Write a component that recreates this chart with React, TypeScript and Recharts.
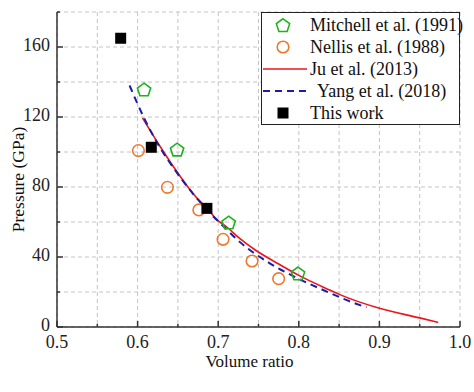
import React from 'react';
import { ComposedChart, Line, Scatter, XAxis, YAxis, CartesianGrid, Legend } from 'recharts';

const xTicks = [0.5, 0.55, 0.6, 0.65, 0.7, 0.75, 0.8, 0.85, 0.9, 0.95, 1.0];
const xTickLabels = ['0.5', '', '0.6', '', '0.7', '', '0.8', '', '0.9', '', '1.0'];
const yTicks = [0, 20, 40, 60, 80, 100, 120, 140, 160, 180];
const yTickLabels = ['0', '', '40', '', '80', '', '120', '', '160', ''];

const mitchellV = [0.608, 0.649, 0.713, 0.799];
const mitchellP = [135.8, 101.5, 59.8, 30.7];

const nellisV = [0.601, 0.637, 0.676, 0.706, 0.742, 0.775];
const nellisP = [100.8, 79.8, 66.9, 50.1, 37.7, 27.6];

const juV = [0.606, 0.624, 0.653, 0.673, 0.686, 0.698, 0.711, 0.727, 0.746, 0.775, 0.8, 0.839, 0.851, 0.9, 0.95, 0.973];
const juP = [119.5, 106, 86, 74, 68, 61.5, 57, 50.5, 44, 36, 29.5, 21, 18.5, 10.7, 5.2, 2.6];

const yangV = [0.59, 0.609, 0.624, 0.653, 0.686, 0.711, 0.727, 0.764, 0.8, 0.818, 0.826, 0.864, 0.884];
const yangP = [138, 118.5, 105.5, 85.5, 67, 55.5, 48.5, 36.4, 27.5, 23.6, 22, 14.5, 11.2];

const thisWorkV = [0.579, 0.617, 0.686];
const thisWorkP = [165, 102.7, 67.8];

const GREEN = '#1fb21f';
const ORANGE = '#f0782c';
const RED = '#e8161e';
const BLUE = '#1c1ca8';
const BLACK = '#000000';
const AXIS = '#333';
const FONT = '"Liberation Serif", "Times New Roman", serif';

const zip = (vs: number[], ps: number[]) => vs.map((v, i) => ({ v, p: ps[i] }));
const mitchell = zip(mitchellV, mitchellP);
const nellis = zip(nellisV, nellisP);
const ju = zip(juV, juP);
const yang = zip(yangV, yangP);
const thisWork = zip(thisWorkV, thisWorkP);

const legendItems = [
  { name: 'Mitchell et al. (1991)', kind: 'pentagon', color: GREEN, indent: 0 },
  { name: 'Nellis et al. (1988)', kind: 'circle', color: ORANGE, indent: 0 },
  { name: 'Ju et al. (2013)', kind: 'line', color: RED, indent: 0 },
  { name: 'Yang et al. (2018)', kind: 'dash', color: BLUE, indent: 7 },
  { name: 'This work', kind: 'square', color: BLACK, indent: 0 },
];

const pentagonPoints = (cx: number, cy: number, r: number) => {
  const pts: string[] = [];
  for (let k = 0; k < 5; k++) {
    const a = -Math.PI / 2 + (k * 2 * Math.PI) / 5;
    pts.push(`${cx + r * Math.cos(a)},${cy + r * Math.sin(a)}`);
  }
  return pts.join(' ');
};

const Pentagon = (props: any) => {
  const { cx, cy } = props;
  if (cx == null || cy == null) return null;
  return <polygon points={pentagonPoints(cx, cy + 0.8, 7)} fill="none" stroke={GREEN} strokeWidth={1.6} />;
};
const Circ = (props: any) => {
  const { cx, cy } = props;
  if (cx == null || cy == null) return null;
  return <circle cx={cx} cy={cy} r={5.8} fill="none" stroke={ORANGE} strokeWidth={1.6} />;
};
const Sq = (props: any) => {
  const { cx, cy } = props;
  if (cx == null || cy == null) return null;
  return <rect x={cx - 5.5} y={cy - 5.5} width={11} height={11} fill={BLACK} />;
};

const fmtX = (val: number) => {
  const i = xTicks.findIndex((t) => Math.abs(t - val) < 1e-6);
  return i >= 0 ? xTickLabels[i] : '';
};
const fmtY = (val: number) => {
  const i = yTicks.findIndex((t) => Math.abs(t - val) < 1e-6);
  return i >= 0 ? yTickLabels[i] : '';
};

const MAJ = 6;
const MIN = 3;

const BottomTick = (props: any) => {
  const { x, y, payload } = props;
  const label = fmtX(payload.value);
  const len = label ? MAJ : MIN;
  return (
    <g>
      <line x1={x} y1={y} x2={x} y2={y - len} stroke={AXIS} strokeWidth={1.5} />
      {label && (
        <text x={x} y={y + 21} textAnchor="middle" fontSize={18} fontFamily={FONT} fill="#222">
          {label}
        </text>
      )}
    </g>
  );
};
const TopTick = (props: any) => {
  const { x, y, payload } = props;
  const len = fmtX(payload.value) ? MAJ : MIN;
  return <line x1={x} y1={y} x2={x} y2={y + len} stroke={AXIS} strokeWidth={1.5} />;
};
const LeftTick = (props: any) => {
  const { x, y, payload } = props;
  const label = fmtY(payload.value);
  const len = label ? MAJ : MIN;
  return (
    <g>
      <line x1={x} y1={y} x2={x + len} y2={y} stroke={AXIS} strokeWidth={1.5} />
      {label && (
        <text x={x - 7} y={y} dy="0.2em" textAnchor="end" fontSize={18} fontFamily={FONT} fill="#222">
          {label}
        </text>
      )}
    </g>
  );
};
const RightTick = (props: any) => {
  const { x, y, payload } = props;
  const len = fmtY(payload.value) ? MAJ : MIN;
  return <line x1={x} y1={y} x2={x - len} y2={y} stroke={AXIS} strokeWidth={1.5} />;
};

const LegendBox = () => (
  <div
    style={{
      border: '1px solid #222',
      background: '#fff',
      width: 197,
      paddingTop: 1,
      height: 110,
      fontFamily: FONT,
      fontSize: 18,
      color: '#111',
      boxSizing: 'content-box',
    }}
  >
    {legendItems.map((it) => (
      <div key={it.name} style={{ display: 'flex', alignItems: 'center', height: 22, whiteSpace: 'nowrap' }}>
        <svg width={46} height={22} style={{ display: 'block', flex: 'none' }}>
          {it.kind === 'pentagon' && (
            <polygon points={pentagonPoints(21, 11.8, 7)} fill="none" stroke={it.color} strokeWidth={1.6} />
          )}
          {it.kind === 'circle' && <circle cx={21} cy={11} r={5.8} fill="none" stroke={it.color} strokeWidth={1.6} />}
          {it.kind === 'line' && <line x1={1} y1={11} x2={45} y2={11} stroke={it.color} strokeWidth={1.6} />}
          {it.kind === 'dash' && (
            <line x1={1} y1={11} x2={45} y2={11} stroke={it.color} strokeWidth={2} strokeDasharray="7 5" />
          )}
          {it.kind === 'square' && <rect x={15.5} y={5.5} width={11} height={11} fill={it.color} />}
        </svg>
        <span style={{ marginLeft: 2 + it.indent, lineHeight: '22px' }}>{it.name}</span>
      </div>
    ))}
  </div>
);

const axisStroke = { stroke: AXIS, strokeWidth: 1.5 };

export default function App() {
  return (
    <div style={{ position: 'absolute', left: 0, top: 0, width: 474, height: 392, background: '#fff' }}>
      <ComposedChart
        width={474}
        height={392}
        margin={{ top: 12, right: 14, bottom: 0, left: 0 }}
        style={{ fontFamily: FONT }}
      >
        <CartesianGrid stroke="#c4c4c4" strokeDasharray="4 3" strokeWidth={1} />
        <XAxis
          dataKey="v"
          type="number"
          domain={[0.5, 1]}
          ticks={xTicks}
          interval={0}
          allowDataOverflow
          tickSize={0}
          tickMargin={0}
          tickLine={false}
          tick={<BottomTick />}
          height={65}
          axisLine={axisStroke}
          label={{
            content: (props: any) => {
              const vb = props.viewBox || { x: 57, y: 327, width: 403 };
              return (
                <text x={vb.x + vb.width / 2 - 9} y={vb.y + 40} textAnchor="middle" fontSize={17} fontFamily={FONT} fill="#111">
                  Volume ratio
                </text>
              );
            },
          }}
        />
        <XAxis
          xAxisId="top"
          orientation="top"
          type="number"
          domain={[0.5, 1]}
          ticks={xTicks}
          interval={0}
          allowDataOverflow
          tickSize={0}
          tickMargin={0}
          tickLine={false}
          tick={<TopTick />}
          height={0}
          axisLine={axisStroke}
        />
        <YAxis
          dataKey="p"
          type="number"
          domain={[0, 180]}
          ticks={yTicks}
          interval={0}
          allowDataOverflow
          tickSize={0}
          tickMargin={0}
          tickLine={false}
          tick={<LeftTick />}
          width={57}
          axisLine={axisStroke}
          label={{
            content: (props: any) => {
              const vb = props.viewBox || { x: 0, y: 12, height: 315 };
              const cx = vb.x + 18;
              const cy = vb.y + vb.height / 2 + 10;
              return (
                <text x={cx} y={cy} transform={`rotate(-90 ${cx} ${cy})`} textAnchor="middle" dominantBaseline="central" fontSize={17.5} fontFamily={FONT} fill="#111">
                  Pressure (GPa)
                </text>
              );
            },
          }}
        />
        <YAxis
          yAxisId="right"
          orientation="right"
          type="number"
          domain={[0, 180]}
          ticks={yTicks}
          interval={0}
          allowDataOverflow
          tickSize={0}
          tickMargin={0}
          tickLine={false}
          tick={<RightTick />}
          width={0}
          axisLine={axisStroke}
        />
        <Line data={ju} dataKey="p" type="monotone" stroke={RED} strokeWidth={1.6} dot={false} isAnimationActive={false} legendType="none" />
        <Line data={yang} dataKey="p" type="monotone" stroke={BLUE} strokeWidth={2} strokeDasharray="7 5" dot={false} isAnimationActive={false} legendType="none" />
        <Scatter data={mitchell} dataKey="p" shape={<Pentagon />} isAnimationActive={false} />
        <Scatter data={nellis} dataKey="p" shape={<Circ />} isAnimationActive={false} />
        <Scatter data={thisWork} dataKey="p" shape={<Sq />} isAnimationActive={false} />
        <Legend
          layout="horizontal"
          verticalAlign="middle"
          align="center"
          wrapperStyle={{ position: 'absolute', left: 261, top: 12, width: 199, height: 112 }}
          content={() => <LegendBox />}
        />
      </ComposedChart>
    </div>
  );
}
